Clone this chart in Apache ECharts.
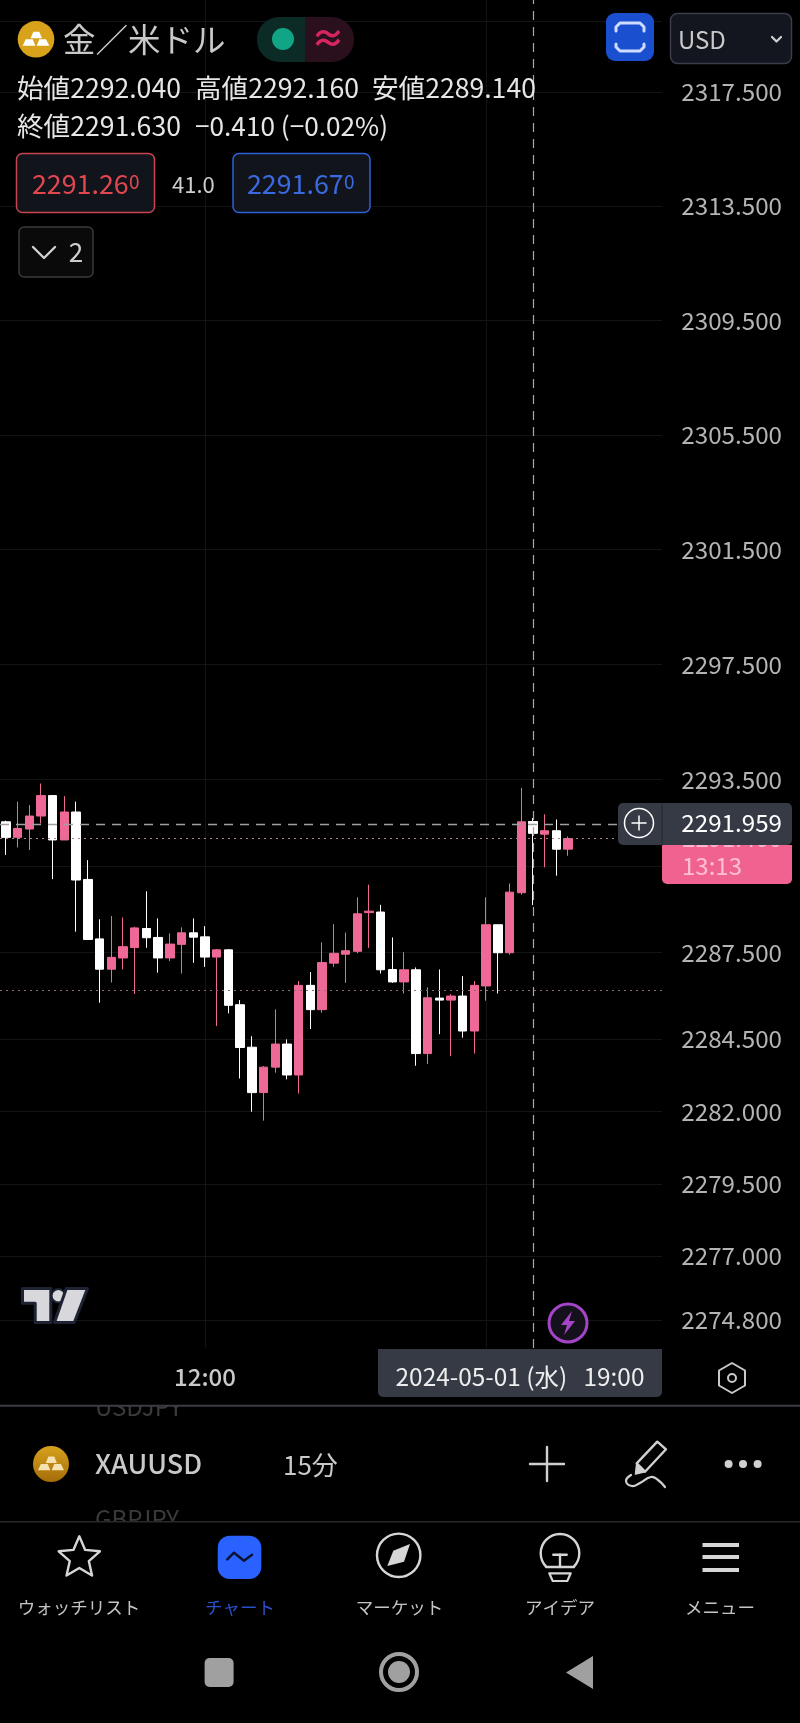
<!DOCTYPE html>
<html><head><meta charset="utf-8">
<style>html,body{margin:0;padding:0;background:#000}#c{width:800px;height:1723px}</style>
<script src="https://cdn.jsdelivr.net/npm/echarts@6/dist/echarts.min.js"></script>
</head><body><div id="c"></div>
<script>
const times = ['07:45','08:00','08:15','08:30','08:45','09:00','09:15','09:30','09:45','10:00','10:15','10:30','10:45','11:00','11:15','11:30','11:45','12:00','12:15','12:30','12:45','13:00','13:15','13:30','13:45','14:00','14:15','14:30','14:45','15:00','15:15','15:30','15:45','16:00','16:15','16:30','16:45','17:00','17:15','17:30','17:45','18:00','18:15','18:30','18:45','19:00','19:15','19:30','19:45','20:00','20:15','20:30','20:45','21:00','21:15','21:30','21:45'];
// [open, close, low, high]
const candles = [
[2292.03,2291.49,2290.88,2292.07],[2291.49,2291.80,2291.14,2292.73],[2291.78,2292.23,2291.05,2292.61],[2292.23,2292.94,2291.97,2293.36],
[2292.94,2291.40,2290.04,2292.96],[2291.40,2292.37,2291.40,2292.92],[2292.37,2290.01,2288.22,2292.73],[2290.03,2287.95,2287.95,2290.70],
[2287.97,2286.92,2285.76,2288.65],[2286.92,2287.33,2286.46,2288.76],[2287.31,2287.70,2286.91,2288.71],[2287.67,2288.35,2286.06,2288.39],
[2288.33,2288.01,2287.66,2289.62],[2288.02,2287.31,2286.80,2288.68],[2287.31,2287.79,2287.20,2288.16],[2287.78,2288.18,2286.77,2288.37],
[2288.18,2288.03,2287.14,2288.68],[2288.04,2287.34,2287.00,2288.41],[2287.34,2287.59,2284.95,2287.62],[2287.59,2285.67,2285.39,2287.62],
[2285.69,2284.21,2283.14,2285.85],[2284.22,2282.65,2281.99,2284.60],[2282.65,2283.53,2281.68,2283.57],[2283.53,2284.33,2283.34,2285.53],
[2284.33,2283.26,2283.11,2284.49],[2283.26,2286.36,2282.62,2286.51],[2286.36,2285.52,2284.85,2286.82],[2285.52,2287.15,2285.41,2287.85],
[2287.13,2287.47,2287.00,2288.48],[2287.44,2287.56,2286.45,2288.19],[2287.54,2288.84,2287.47,2289.41],[2288.88,2288.93,2287.66,2289.85],
[2288.90,2286.90,2286.77,2289.15],[2286.91,2286.48,2286.45,2288.02],[2286.48,2286.90,2286.08,2287.51],[2286.90,2284.00,2283.58,2286.98],
[2284.00,2285.93,2283.64,2286.29],[2285.92,2285.85,2284.67,2286.91],[2285.85,2285.99,2283.91,2286.06],[2285.99,2284.78,2284.55,2286.68],
[2284.78,2286.36,2284.00,2286.51],[2286.34,2288.46,2285.83,2289.41],[2288.46,2287.49,2286.08,2288.46],[2287.49,2289.59,2287.42,2289.89],
[2289.57,2292.03,2289.50,2293.21],[2292.04,2291.63,2289.14,2292.16],[2291.60,2291.72,2290.45,2292.29],[2291.72,2291.08,2290.16,2292.11],
[2291.08,2291.45,2290.85,2291.52]];
const labelledTicks = [2317.5,2313.5,2309.5,2305.5,2301.5,2297.5,2293.5,2287.5,2284.5,2282,2279.5,2277,2274.8];
const gridTicks = [2320,2317.5,2313.5,2309.5,2305.5,2301.5,2297.5,2293.5,2290.5,2287.5,2284.5,2282,2279.5,2277,2274.8];
const yMin = 2273.84, yMax = 2320.73;
const crosshairTime = '19:00', crosshairPrice = 2291.959, lastPrice = 2291.46, sessionPrice = 2286.2;
const labelledTimes = ['12:00'], gridTimes = ['12:00','18:00'];
const PINK = '#EE6898', FONT = '"Noto Sans CJK JP","Noto Sans",sans-serif';

const G = [];
const font = (s, w) => (w ? w + ' ' : '') + s + 'px ' + FONT;
function rect(x, y, w, h, fill, r, stroke, lw, z) { G.push({type:'rect', silent:true, z: z||10, shape:{x,y,width:w,height:h,r:r||0}, style:{fill:fill||'none', stroke:stroke||'none', lineWidth:lw||1}}); }
function text(t, x, y, size, fill, align, weight, z) { G.push({type:'text', silent:true, z: z||10, style:{text:t, x, y, fill, font:font(size, weight), align:align||'left', verticalAlign:'middle'}}); }
function circle(cx, cy, r, fill, stroke, lw, z) { G.push({type:'circle', silent:true, z: z||10, shape:{cx,cy,r}, style:{fill:fill||'none', stroke:stroke||'none', lineWidth:lw||1}}); }
function line(pts, stroke, lw, smooth, z) { G.push({type:'polyline', silent:true, z: z||10, shape:{points:pts, smooth:smooth||0}, style:{fill:'none', stroke, lineWidth:lw||2, lineCap:'round', lineJoin:'round'}}); }
function poly(pts, fill, stroke, lw, z) { G.push({type:'polygon', silent:true, z: z||10, shape:{points:pts}, style:{fill:fill||'none', stroke:stroke||'none', lineWidth:lw||1, lineJoin:'round'}}); }
function goldIcon(cx, cy, r, fill, bar) {
  circle(cx, cy, r, fill);
  const k = r / 18.3;
  [[[-5.3,-1],[-2.7,-7.6],[3.3,-7.6],[6,-1]],[[-13.3,6.4],[-10.3,0],[-3.3,0],[-0.7,6.4]],[[0.7,6.4],[3.3,0],[10,0],[13.3,6.4]]]
    .forEach(p => poly(p.map(q => [cx + q[0]*k, cy + q[1]*k]), bar));
}

// cover strip between plot and price scale
rect(662, 0, 18, 1348, '#000', 0, null, 0, 5);

// header
goldIcon(36, 39.3, 18.3, '#d9a21b', '#fff');
text('金／米ドル', 63, 40, 32.5, '#c9c9c9');
rect(257, 17, 48, 45, '#0c2a26', [22,0,0,22]);
rect(305, 17, 49, 45, '#2a0f1c', [0,22,22,0]);
circle(283, 39, 11, '#12a585');
text('≈', 328, 38, 34, '#d6255f', 'center', 'bold');
rect(606, 13, 48, 48, '#1a4fd0', 9);
line([[616,31],[616,27],[620,23],[640,23],[644,27],[644,31]], '#cfdcff', 3);
line([[616,44],[616,47],[620,51],[640,51],[644,47],[644,44]], '#cfdcff', 3);
rect(670.5, 13.5, 121, 50, '#13161f', 7, '#3a3e48', 1.5);
text('USD', 678, 40, 24, '#c9c9c9');
line([[772,37],[776.5,41.5],[781,37]], '#d0d0d0', 2.2);

text('始値2292.040', 17, 88, 26.6, '#e6e6e6');
text('高値2292.160', 195, 88, 26.6, '#e6e6e6');
text('安値2289.140', 372, 88, 26.6, '#e6e6e6');
text('終値2291.630', 17, 126, 26.6, '#e6e6e6');
text('−0.410 (−0.02%)', 195, 126, 26.2, '#e6e6e6');

rect(16.5, 153.5, 138, 59, '#12141c', 6, '#c9444e', 1.5);
text('2291.26', 32, 184, 26.8, '#e0474f');
text('0', 129, 182, 19, '#e0474f');
text('41.0', 172, 185, 22, '#cfcfcf');
rect(233, 153.5, 137, 59, '#12141c', 6, '#2f5fd9', 1.5);
text('2291.67', 247, 184, 26.8, '#3a6ae0');
text('0', 344, 182, 19, '#3a6ae0');
rect(19, 227, 74, 50, '#0a0a0a', 5, '#3a3a3a', 1.5);
line([[33,247],[44,258],[55,247]], '#d0d0d0', 2.4);
text('2', 76, 252, 26, '#cfcfcf', 'center');

// logo
const logoEdge = '#1d2333';
poly([[22.5,1288.5],[50.8,1288.5],[50.8,1322.5],[35.2,1322.5],[35.2,1303.2],[22.5,1303.2]], '#d8d8dc', logoEdge, 3);
circle(58.3, 1295.7, 6.7, '#d8d8dc', logoEdge, 2);
poly([[66.3,1288.5],[87.5,1288.5],[74.3,1322.5],[54.5,1322.5]], '#d8d8dc', logoEdge, 3);

// lightning
circle(568, 1323, 19, '#14101c', '#a445c8', 3);
poly([[572,1311],[561,1325],[567,1325],[564,1335],[575,1321],[569,1321]], '#a445c8');

// ghost list rows behind the toolbar
text('USDJPY', 95, 1407, 24, '#3a3a3a', 'left', null, 6);
text('GBPJPY', 95, 1519, 24, '#3a3a3a', 'left', null, 6);
rect(0, 1392, 800, 13, '#000', 0, null, 0, 7);
rect(0, 1522, 800, 201, '#000', 0, null, 0, 7);

// price tags
rect(662, 845, 130, 39, '#f0628f', [0,0,5,5]);
text('2291.460', 782, 838, 24, '#ffb8d0', 'right');
rect(618, 803, 174, 42, '#363a45', 5);
line([[662,803],[662,845]], '#23262e', 1);
circle(639, 823, 14.5, 'none', '#fff', 1.5);
line([[632,823],[646,823]], '#fff', 1.5);
line([[639,816],[639,830]], '#fff', 1.5);
text('2291.959', 782, 823, 24.2, '#ffffff', 'right');
text('13:13', 682, 866, 24, '#ffc0d6');

// time tag and hex
rect(378, 1349, 284, 48, '#363a45', [0,0,5,5]);
text('2024-05-01 (水)   19:00', 520, 1377, 24.4, '#eeeeee', 'center');
const hexR = 15;
poly([0,1,2,3,4,5].map(i => [732 + hexR*Math.sin(i*Math.PI/3)*1, 1378 + hexR*Math.cos(i*Math.PI/3)]), 'none', '#c9c9c9', 2);
circle(732, 1378, 4, 'none', '#c9c9c9', 2);

// toolbar
rect(0, 1404.8, 800, 2, '#3a3d42', 0, null, 0, 8);
rect(0, 1521, 800, 1.5, '#26282c', 0, null, 0, 8);
const gold = {type:'linear', x:0, y:0, x2:0, y2:1, colorStops:[{offset:0,color:'#d6a21c'},{offset:1,color:'#a56c0a'}]};
goldIcon(51, 1464, 18, gold, '#f5e2b0');
text('XAUUSD', 95, 1464, 27, '#c9c9c9', 'left', '500');
text('15分', 283, 1465, 26, '#c9c9c9');
line([[530,1464],[564,1464]], '#d0d0d0', 2.4);
line([[547,1447],[547,1481]], '#d0d0d0', 2.4);
poly([[657.3,1441.7],[666,1449.3],[645,1471.7],[636.7,1463.3]], 'none', '#d0d0d0', 2.4);
poly([[636.7,1463.3],[645,1471.7],[635.5,1474]], '#d0d0d0', '#d0d0d0', 1.5);
line([[631,1475],[626,1481],[632,1486],[640,1483],[651,1477],[658,1480],[665,1487]], '#d0d0d0', 2.2, 0.5);
[728.6,743,757.6].forEach(x => circle(x, 1464, 4, '#d0d0d0'));

// nav
const star = [];
for (let i = 0; i < 10; i++) { const r = i%2 ? 10 : 21.7, a = i*Math.PI/5; star.push([79.3 + r*Math.sin(a), 1558 - r*Math.cos(a)]); }
poly(star, 'none', '#d6d6d6', 2.4);
rect(217.7, 1535.7, 43.6, 43.4, '#2962ff', 12);
line([[227.3,1559.3],[234,1552.7],[244,1560.7],[252,1554.7]], '#0b1330', 2.5);
circle(398.7, 1555.3, 21.7, 'none', '#d6d6d6', 2.4);
poly([[410,1544],[404,1561.7],[387.3,1566],[393.3,1550.7]], '#d6d6d6');
G.push({type:'arc', silent:true, z:10, shape:{cx:560, cy:1553.3, r:19.3, startAngle:Math.PI*0.75, endAngle:Math.PI*0.25, clockwise:true}, style:{fill:'none', stroke:'#d6d6d6', lineWidth:2.4}});
line([[546,1567],[574,1567]], '#d6d6d6', 2.4);
line([[553.3,1554.7],[566.7,1554.7]], '#d6d6d6', 2.4);
line([[560,1554.7],[560,1567]], '#d6d6d6', 2.4);
poly([[549.3,1573.3],[570.7,1573.3],[567.3,1581],[552.7,1581]], 'none', '#d6d6d6', 2.2);
[1545,1557,1570].forEach(y => rect(702.5, y-2, 36.5, 4, '#d6d6d6'));
[['ウォッチリスト',79,'#c4c4c4'],['チャート',240,'#2a50c8'],['マーケット',399.5,'#c4c4c4'],['アイデア',560,'#c4c4c4'],['メニュー',720,'#c4c4c4']]
  .forEach(t => text(t[0], t[1], 1607, 17.5, t[2], 'center', null, 9));

// system buttons
rect(204.6, 1658, 29, 29, '#a0a0a0', 5, null, 0, 9);
circle(399, 1672, 18, 'none', '#a0a0a0', 4, 9);
circle(399, 1672, 11, '#a0a0a0', null, 0, 9);
poly([[593,1656],[593,1689],[566,1672.5]], '#a0a0a0', null, 0, 9);

const left = -0.865, band = 11.729;
const chart = echarts.init(document.getElementById('c'), null, {renderer:'canvas'});
chart.setOption({
  animation:false,
  backgroundColor:'#000',
  grid:{left:left, top:0, width:band*times.length, height:1348, containLabel:false},
  xAxis:{type:'category', data:times, boundaryGap:true,
    axisLine:{show:false}, axisTick:{show:false, alignWithLabel:true},
    axisLabel:{color:'#c9c9c9', fontFamily:FONT, fontSize:24, margin:17, fontWeight:500,
      interval:(i,v)=>labelledTimes.includes(v), hideOverlap:false},
    splitLine:{show:true, alignWithLabel:true, interval:(i,v)=>gridTimes.includes(v), lineStyle:{color:'#141414', width:1}}},
  yAxis:{type:'log', logBase:10, position:'right', min:yMin, max:yMax,
    axisLine:{show:false},
    axisTick:{show:false, customValues:gridTicks},
    axisLabel:{color:'#b4b4b4', fontFamily:FONT, fontSize:24.2, margin:114.3, align:'right',
      customValues:labelledTicks,
      formatter:v=>(+v).toFixed(3)},
    splitLine:{show:true, lineStyle:{color:'#141414', width:1}}},
  graphic:{elements:G},
  series:[{type:'candlestick', data:candles, barWidth:9, silent:true, z:2,
    itemStyle:{color:PINK, color0:'#fff', borderColor:PINK, borderColor0:'#fff', borderWidth:1},
    markLine:{silent:true, symbol:'none', animation:false, label:{show:false}, precision:4, z:3, data:[
      {xAxis:crosshairTime, lineStyle:{color:'#a8a8a8', type:[9,7], width:1.2}},
      {yAxis:crosshairPrice, lineStyle:{color:'#a0a0a0', type:[9,7], width:1.3}},
      {yAxis:lastPrice, lineStyle:{color:'#b08090', type:[2,4], width:1.2}},
      {yAxis:sessionPrice, lineStyle:{color:'#8a7074', type:[2,4], width:1.2}}
    ]}}]
});
</script></body></html>
